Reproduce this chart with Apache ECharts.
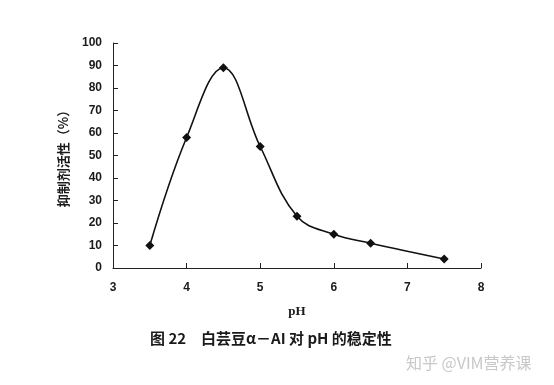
<!DOCTYPE html>
<html>
<head>
<meta charset="utf-8">
<script src="https://cdn.jsdelivr.net/npm/echarts@6/dist/echarts.min.js"></script>
<style>html,body{margin:0;padding:0;background:#fff;}#c{width:554px;height:385px;}</style>
</head>
<body>
<div id="c"></div>
<script>
var phValues = [3.5, 4, 4.5, 5, 5.5, 6, 6.5, 7.5];
var activity = [10, 58, 89, 54, 23, 15, 11, 4];
var xTicks = [3, 4, 5, 6, 7, 8];
var yTicks = [0, 10, 20, 30, 40, 50, 60, 70, 80, 90, 100];
var yAxisTitle = '抑制剂活性（%）';
var xAxisTitle = 'pH';
var caption = '图 22　白芸豆α－AI 对 pH 的稳定性';
var watermark = '知乎 @VIM营养课';

var chart = echarts.init(document.getElementById('c'));
var tickFont = {color: '#1a1a1a', fontSize: 12, fontWeight: 'bold', fontFamily: 'Liberation Sans, Arial, sans-serif'};
chart.setOption({
  animation: false,
  grid: {left: 113, right: 73, top: 43, bottom: 117, containLabel: false},
  xAxis: {
    type: 'value', min: xTicks[0], max: xTicks[xTicks.length - 1], interval: 1,
    axisLine: {lineStyle: {color: '#222', width: 1}},
    axisTick: {inside: true, length: 5, lineStyle: {color: '#222'}},
    splitLine: {show: false},
    axisLabel: Object.assign({margin: 14}, tickFont),
    name: xAxisTitle, nameLocation: 'middle', nameGap: 37,
    nameTextStyle: {color: '#1a1a1a', fontSize: 13, fontWeight: 'bold', fontFamily: 'Liberation Serif, serif'}
  },
  yAxis: {
    type: 'value', min: yTicks[0], max: yTicks[yTicks.length - 1], interval: 10,
    axisLine: {show: true, lineStyle: {color: '#222', width: 1}},
    axisTick: {show: true, inside: true, length: 5, lineStyle: {color: '#222'}},
    splitLine: {show: false},
    axisLabel: Object.assign({margin: 11}, tickFont),
    name: yAxisTitle, nameLocation: 'middle', nameRotate: 90, nameGap: 43,
    nameTextStyle: {color: '#1a1a1a', fontSize: 13, fontWeight: 'bold', fontFamily: 'Noto Sans CJK SC, sans-serif'}
  },
  series: [{
    type: 'line',
    data: phValues.map(function (p, i) { return [p, activity[i]]; }),
    smooth: 0.4,
    symbol: 'diamond', symbolSize: 9,
    lineStyle: {color: '#111', width: 1.6},
    itemStyle: {color: '#111'}
  }],
  graphic: [
    {type: 'text', left: 150, top: 331, style: {text: caption, fill: '#1a1a1a', font: 'bold 15px "Noto Sans CJK SC", sans-serif'}},
    {type: 'text', left: 406, top: 355, style: {text: watermark, fill: '#c8c8c8', font: '16px "Noto Sans CJK SC", sans-serif'}}
  ]
});
</script>
</body>
</html>
